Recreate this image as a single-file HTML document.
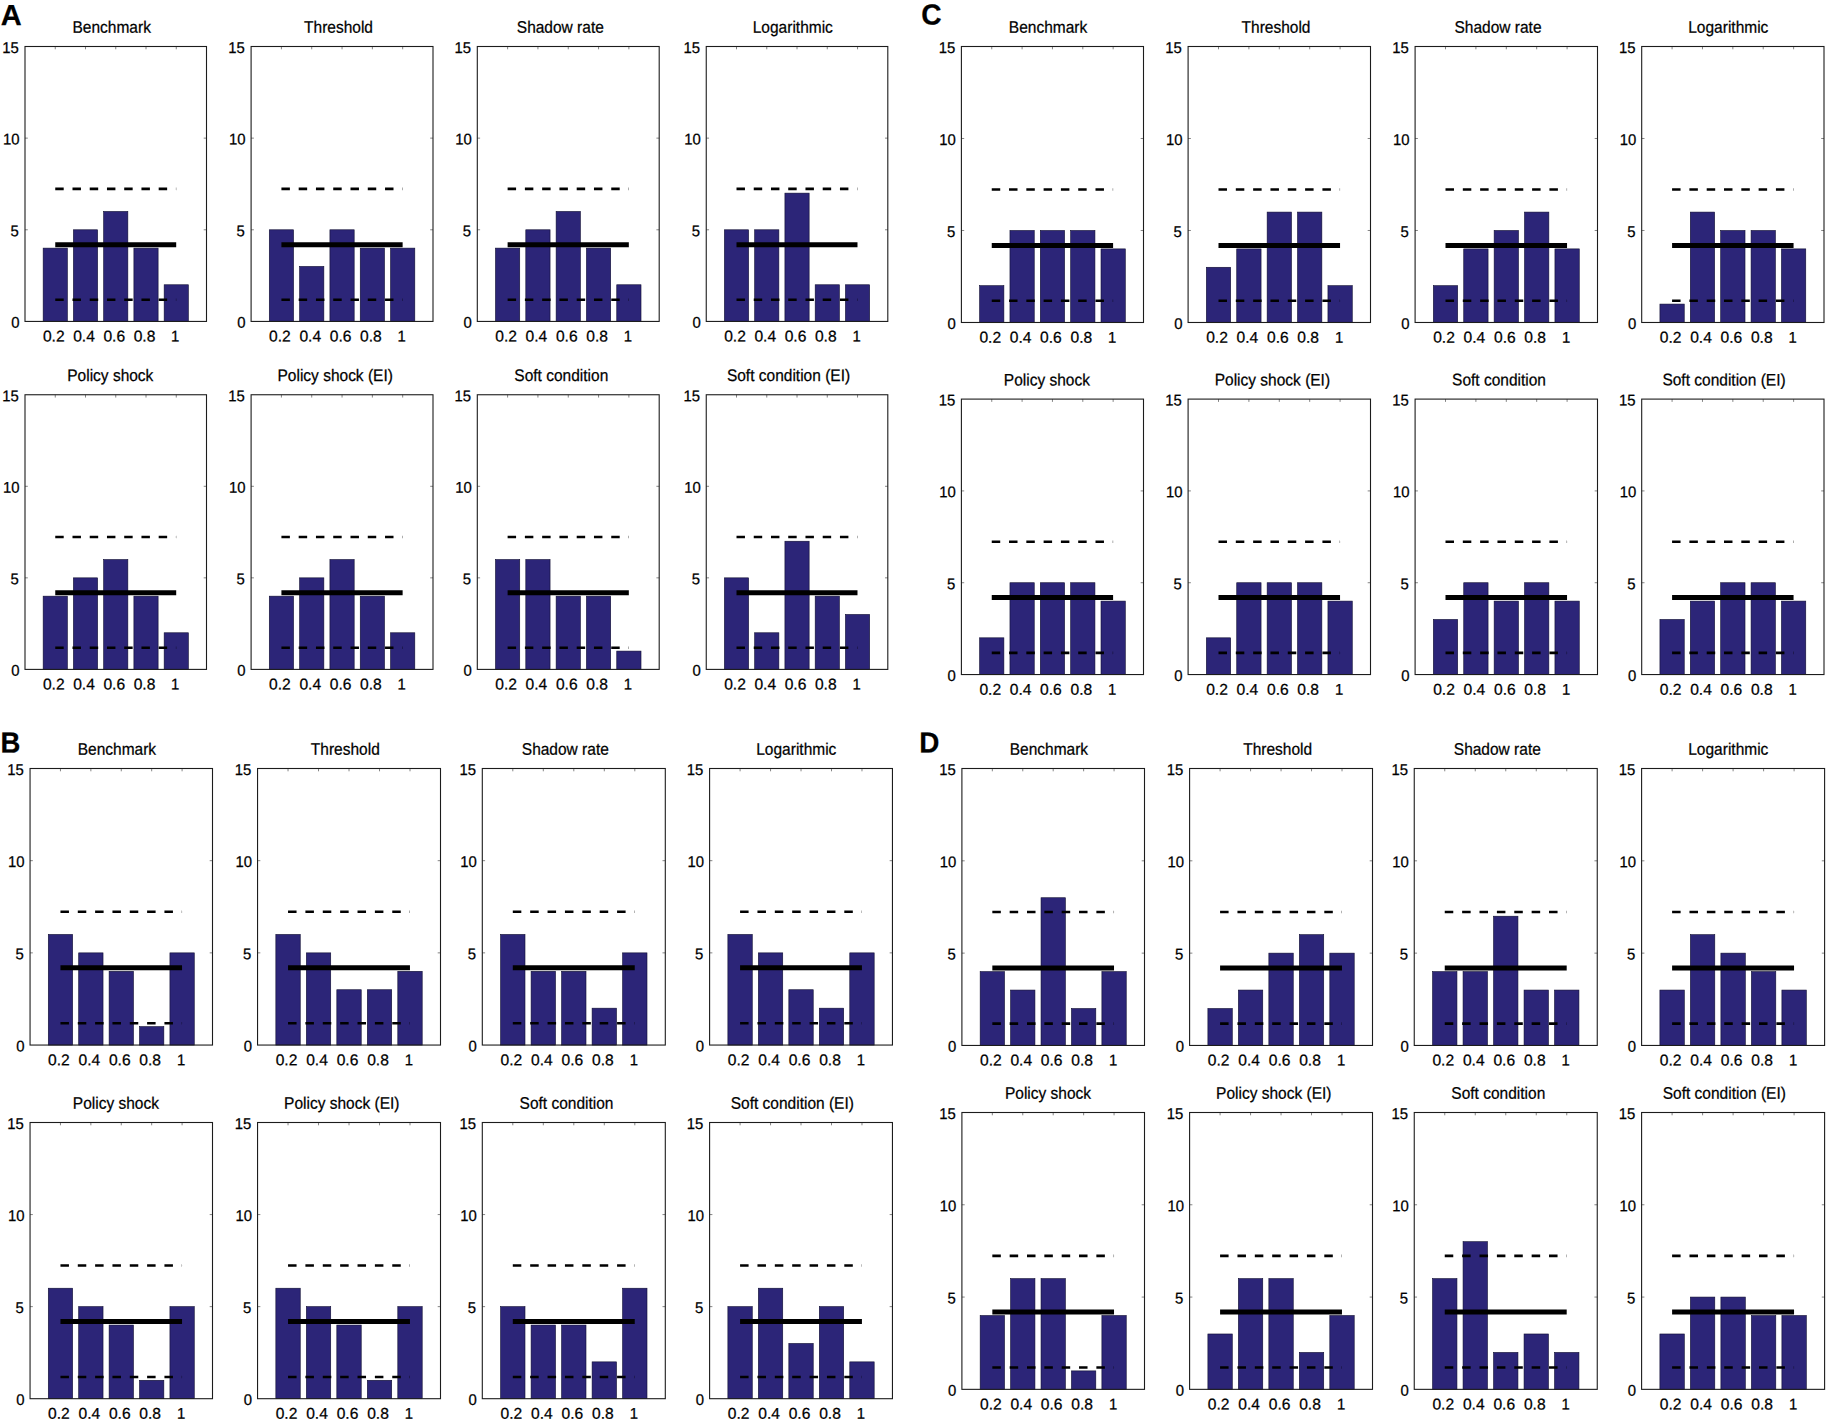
<!DOCTYPE html>
<html lang="en">
<head>
<meta charset="utf-8">
<title>Histograms</title>
<style>
html,body{margin:0;padding:0;background:#fff;}
body{width:1826px;height:1423px;overflow:hidden;}
svg{display:block;}
text{font-family:"Liberation Sans",Arial,Helvetica,sans-serif;fill:#000;stroke:#000;stroke-width:0.25px;}
.t{font-size:16.7px;text-anchor:middle;}
.x{font-size:15.6px;text-anchor:middle;}
.y{font-size:15.6px;text-anchor:end;}
.p{font-size:29px;font-weight:bold;}
.b{fill:#2c2578;stroke:#0e0c30;stroke-width:0.6;}
.a{fill:none;stroke:#1c1c1c;stroke-width:1.1;}
.k{fill:none;stroke:#666;stroke-width:0.8;}
.m{fill:none;stroke:#000;stroke-width:5;}
.d{fill:none;stroke:#000;stroke-width:2.6;}
</style>
</head>
<body>
<svg width="1826" height="1423" viewBox="0 0 1826 1423">
<rect x="0" y="0" width="1826" height="1423" fill="#fff"/>
<g>
<text class="t" transform="matrix(0.928 .0005 0 1 111.7 32.8)">Benchmark</text>
<rect class="b" x="43.15" y="248.12" width="24.2" height="73.31"/>
<rect class="b" x="73.4" y="229.79" width="24.2" height="91.64"/>
<rect class="b" x="103.65" y="211.46" width="24.2" height="109.97"/>
<rect class="b" x="133.9" y="248.12" width="24.2" height="73.31"/>
<rect class="b" x="164.15" y="284.77" width="24.2" height="36.66"/>
<path class="k" d="M55.25 46.5v2.8M85.5 46.5v2.8M115.75 46.5v2.8M146 46.5v2.8M176.25 46.5v2.8M25 229.79h2.8M206.5 229.79h-2.8M25 138.14h2.8M206.5 138.14h-2.8"/>
<rect class="a" x="25" y="46.5" width="181.5" height="274.93"/>
<path class="m" d="M55.25 244.63H176.2"/>
<path class="d" stroke-dasharray="8.45 8.79" d="M55.25 188.91H176.2M55.25 299.8H176.2"/>
<text class="y" transform="matrix(0.955 .0005 0 1 19.5 327.83)">0</text>
<text class="y" transform="matrix(0.955 .0005 0 1 18.8 236.19)">5</text>
<text class="y" transform="matrix(0.955 .0005 0 1 19.5 144.54)">10</text>
<text class="y" transform="matrix(0.955 .0005 0 1 18.8 52.9)">15</text>
<text class="x" transform="matrix(1.0 .0005 0 1 53.75 341.58)">0.2</text>
<text class="x" transform="matrix(1.0 .0005 0 1 84 341.58)">0.4</text>
<text class="x" transform="matrix(1.0 .0005 0 1 114.25 341.58)">0.6</text>
<text class="x" transform="matrix(1.0 .0005 0 1 144.5 341.58)">0.8</text>
<text class="x" transform="matrix(0.955 .0005 0 1 175.25 341.58)">1</text>
</g>
<g>
<text class="t" transform="matrix(0.928 .0005 0 1 338.5 32.8)">Threshold</text>
<rect class="b" x="269.29" y="229.79" width="24.25" height="91.64"/>
<rect class="b" x="299.61" y="266.44" width="24.25" height="54.99"/>
<rect class="b" x="329.92" y="229.79" width="24.25" height="91.64"/>
<rect class="b" x="360.24" y="248.12" width="24.25" height="73.31"/>
<rect class="b" x="390.56" y="248.12" width="24.25" height="73.31"/>
<path class="k" d="M281.42 46.5v2.8M311.73 46.5v2.8M342.05 46.5v2.8M372.37 46.5v2.8M402.68 46.5v2.8M251.1 229.79h2.8M433 229.79h-2.8M251.1 138.14h2.8M433 138.14h-2.8"/>
<rect class="a" x="251.1" y="46.5" width="181.9" height="274.93"/>
<path class="m" d="M281.42 244.63H402.63"/>
<path class="d" stroke-dasharray="8.46 8.81" d="M281.42 188.91H402.63M281.42 299.8H402.63"/>
<text class="y" transform="matrix(0.955 .0005 0 1 245.6 327.83)">0</text>
<text class="y" transform="matrix(0.955 .0005 0 1 244.9 236.19)">5</text>
<text class="y" transform="matrix(0.955 .0005 0 1 245.6 144.54)">10</text>
<text class="y" transform="matrix(0.955 .0005 0 1 244.9 52.9)">15</text>
<text class="x" transform="matrix(1.0 .0005 0 1 279.92 341.58)">0.2</text>
<text class="x" transform="matrix(1.0 .0005 0 1 310.23 341.58)">0.4</text>
<text class="x" transform="matrix(1.0 .0005 0 1 340.55 341.58)">0.6</text>
<text class="x" transform="matrix(1.0 .0005 0 1 370.87 341.58)">0.8</text>
<text class="x" transform="matrix(0.955 .0005 0 1 401.68 341.58)">1</text>
</g>
<g>
<text class="t" transform="matrix(0.928 .0005 0 1 560.3 32.8)">Shadow rate</text>
<rect class="b" x="495.49" y="248.12" width="24.25" height="73.31"/>
<rect class="b" x="525.81" y="229.79" width="24.25" height="91.64"/>
<rect class="b" x="556.12" y="211.46" width="24.25" height="109.97"/>
<rect class="b" x="586.44" y="248.12" width="24.25" height="73.31"/>
<rect class="b" x="616.76" y="284.77" width="24.25" height="36.66"/>
<path class="k" d="M507.62 46.5v2.8M537.93 46.5v2.8M568.25 46.5v2.8M598.57 46.5v2.8M628.88 46.5v2.8M477.3 229.79h2.8M659.2 229.79h-2.8M477.3 138.14h2.8M659.2 138.14h-2.8"/>
<rect class="a" x="477.3" y="46.5" width="181.9" height="274.93"/>
<path class="m" d="M507.62 244.63H628.83"/>
<path class="d" stroke-dasharray="8.46 8.81" d="M507.62 188.91H628.83M507.62 299.8H628.83"/>
<text class="y" transform="matrix(0.955 .0005 0 1 471.8 327.83)">0</text>
<text class="y" transform="matrix(0.955 .0005 0 1 471.1 236.19)">5</text>
<text class="y" transform="matrix(0.955 .0005 0 1 471.8 144.54)">10</text>
<text class="y" transform="matrix(0.955 .0005 0 1 471.1 52.9)">15</text>
<text class="x" transform="matrix(1.0 .0005 0 1 506.12 341.58)">0.2</text>
<text class="x" transform="matrix(1.0 .0005 0 1 536.43 341.58)">0.4</text>
<text class="x" transform="matrix(1.0 .0005 0 1 566.75 341.58)">0.6</text>
<text class="x" transform="matrix(1.0 .0005 0 1 597.07 341.58)">0.8</text>
<text class="x" transform="matrix(0.955 .0005 0 1 627.88 341.58)">1</text>
</g>
<g>
<text class="t" transform="matrix(0.928 .0005 0 1 792.8 32.8)">Logarithmic</text>
<rect class="b" x="724.4" y="229.79" width="24.21" height="91.64"/>
<rect class="b" x="754.66" y="229.79" width="24.21" height="91.64"/>
<rect class="b" x="784.92" y="193.13" width="24.21" height="128.3"/>
<rect class="b" x="815.18" y="284.77" width="24.21" height="36.66"/>
<rect class="b" x="845.44" y="284.77" width="24.21" height="36.66"/>
<path class="k" d="M736.51 46.5v2.8M766.77 46.5v2.8M797.02 46.5v2.8M827.28 46.5v2.8M857.54 46.5v2.8M706.25 229.79h2.8M887.8 229.79h-2.8M706.25 138.14h2.8M887.8 138.14h-2.8"/>
<rect class="a" x="706.25" y="46.5" width="181.55" height="274.93"/>
<path class="m" d="M736.51 244.63H857.49"/>
<path class="d" stroke-dasharray="8.45 8.79" d="M736.51 188.91H857.49M736.51 299.8H857.49"/>
<text class="y" transform="matrix(0.955 .0005 0 1 700.75 327.83)">0</text>
<text class="y" transform="matrix(0.955 .0005 0 1 700.05 236.19)">5</text>
<text class="y" transform="matrix(0.955 .0005 0 1 700.75 144.54)">10</text>
<text class="y" transform="matrix(0.955 .0005 0 1 700.05 52.9)">15</text>
<text class="x" transform="matrix(1.0 .0005 0 1 735.01 341.58)">0.2</text>
<text class="x" transform="matrix(1.0 .0005 0 1 765.27 341.58)">0.4</text>
<text class="x" transform="matrix(1.0 .0005 0 1 795.52 341.58)">0.6</text>
<text class="x" transform="matrix(1.0 .0005 0 1 825.78 341.58)">0.8</text>
<text class="x" transform="matrix(0.955 .0005 0 1 856.54 341.58)">1</text>
</g>
<g>
<text class="t" transform="matrix(0.928 .0005 0 1 110.3 381.05)">Policy shock</text>
<rect class="b" x="43.15" y="596.16" width="24.2" height="73.24"/>
<rect class="b" x="73.4" y="577.85" width="24.2" height="91.55"/>
<rect class="b" x="103.65" y="559.54" width="24.2" height="109.86"/>
<rect class="b" x="133.9" y="596.16" width="24.2" height="73.24"/>
<rect class="b" x="164.15" y="632.78" width="24.2" height="36.62"/>
<path class="k" d="M55.25 394.75v2.8M85.5 394.75v2.8M115.75 394.75v2.8M146 394.75v2.8M176.25 394.75v2.8M25 577.85h2.8M206.5 577.85h-2.8M25 486.3h2.8M206.5 486.3h-2.8"/>
<rect class="a" x="25" y="394.75" width="181.5" height="274.65"/>
<path class="m" d="M55.25 592.68H176.2"/>
<path class="d" stroke-dasharray="8.45 8.79" d="M55.25 537.02H176.2M55.25 647.79H176.2"/>
<text class="y" transform="matrix(0.955 .0005 0 1 19.5 675.8)">0</text>
<text class="y" transform="matrix(0.955 .0005 0 1 18.8 584.25)">5</text>
<text class="y" transform="matrix(0.955 .0005 0 1 19.5 492.7)">10</text>
<text class="y" transform="matrix(0.955 .0005 0 1 18.8 401.15)">15</text>
<text class="x" transform="matrix(1.0 .0005 0 1 53.75 689.55)">0.2</text>
<text class="x" transform="matrix(1.0 .0005 0 1 84 689.55)">0.4</text>
<text class="x" transform="matrix(1.0 .0005 0 1 114.25 689.55)">0.6</text>
<text class="x" transform="matrix(1.0 .0005 0 1 144.5 689.55)">0.8</text>
<text class="x" transform="matrix(0.955 .0005 0 1 175.25 689.55)">1</text>
</g>
<g>
<text class="t" transform="matrix(0.928 .0005 0 1 335.2 381.05)">Policy shock (EI)</text>
<rect class="b" x="269.29" y="596.16" width="24.25" height="73.24"/>
<rect class="b" x="299.61" y="577.85" width="24.25" height="91.55"/>
<rect class="b" x="329.92" y="559.54" width="24.25" height="109.86"/>
<rect class="b" x="360.24" y="596.16" width="24.25" height="73.24"/>
<rect class="b" x="390.56" y="632.78" width="24.25" height="36.62"/>
<path class="k" d="M281.42 394.75v2.8M311.73 394.75v2.8M342.05 394.75v2.8M372.37 394.75v2.8M402.68 394.75v2.8M251.1 577.85h2.8M433 577.85h-2.8M251.1 486.3h2.8M433 486.3h-2.8"/>
<rect class="a" x="251.1" y="394.75" width="181.9" height="274.65"/>
<path class="m" d="M281.42 592.68H402.63"/>
<path class="d" stroke-dasharray="8.46 8.81" d="M281.42 537.02H402.63M281.42 647.79H402.63"/>
<text class="y" transform="matrix(0.955 .0005 0 1 245.6 675.8)">0</text>
<text class="y" transform="matrix(0.955 .0005 0 1 244.9 584.25)">5</text>
<text class="y" transform="matrix(0.955 .0005 0 1 245.6 492.7)">10</text>
<text class="y" transform="matrix(0.955 .0005 0 1 244.9 401.15)">15</text>
<text class="x" transform="matrix(1.0 .0005 0 1 279.92 689.55)">0.2</text>
<text class="x" transform="matrix(1.0 .0005 0 1 310.23 689.55)">0.4</text>
<text class="x" transform="matrix(1.0 .0005 0 1 340.55 689.55)">0.6</text>
<text class="x" transform="matrix(1.0 .0005 0 1 370.87 689.55)">0.8</text>
<text class="x" transform="matrix(0.955 .0005 0 1 401.68 689.55)">1</text>
</g>
<g>
<text class="t" transform="matrix(0.928 .0005 0 1 561.3 381.05)">Soft condition</text>
<rect class="b" x="495.49" y="559.54" width="24.25" height="109.86"/>
<rect class="b" x="525.81" y="559.54" width="24.25" height="109.86"/>
<rect class="b" x="556.12" y="596.16" width="24.25" height="73.24"/>
<rect class="b" x="586.44" y="596.16" width="24.25" height="73.24"/>
<rect class="b" x="616.76" y="651.09" width="24.25" height="18.31"/>
<path class="k" d="M507.62 394.75v2.8M537.93 394.75v2.8M568.25 394.75v2.8M598.57 394.75v2.8M628.88 394.75v2.8M477.3 577.85h2.8M659.2 577.85h-2.8M477.3 486.3h2.8M659.2 486.3h-2.8"/>
<rect class="a" x="477.3" y="394.75" width="181.9" height="274.65"/>
<path class="m" d="M507.62 592.68H628.83"/>
<path class="d" stroke-dasharray="8.46 8.81" d="M507.62 537.02H628.83M507.62 647.79H628.83"/>
<text class="y" transform="matrix(0.955 .0005 0 1 471.8 675.8)">0</text>
<text class="y" transform="matrix(0.955 .0005 0 1 471.1 584.25)">5</text>
<text class="y" transform="matrix(0.955 .0005 0 1 471.8 492.7)">10</text>
<text class="y" transform="matrix(0.955 .0005 0 1 471.1 401.15)">15</text>
<text class="x" transform="matrix(1.0 .0005 0 1 506.12 689.55)">0.2</text>
<text class="x" transform="matrix(1.0 .0005 0 1 536.43 689.55)">0.4</text>
<text class="x" transform="matrix(1.0 .0005 0 1 566.75 689.55)">0.6</text>
<text class="x" transform="matrix(1.0 .0005 0 1 597.07 689.55)">0.8</text>
<text class="x" transform="matrix(0.955 .0005 0 1 627.88 689.55)">1</text>
</g>
<g>
<text class="t" transform="matrix(0.928 .0005 0 1 788.5 381.05)">Soft condition (EI)</text>
<rect class="b" x="724.4" y="577.85" width="24.21" height="91.55"/>
<rect class="b" x="754.66" y="632.78" width="24.21" height="36.62"/>
<rect class="b" x="784.92" y="541.23" width="24.21" height="128.17"/>
<rect class="b" x="815.18" y="596.16" width="24.21" height="73.24"/>
<rect class="b" x="845.44" y="614.47" width="24.21" height="54.93"/>
<path class="k" d="M736.51 394.75v2.8M766.77 394.75v2.8M797.02 394.75v2.8M827.28 394.75v2.8M857.54 394.75v2.8M706.25 577.85h2.8M887.8 577.85h-2.8M706.25 486.3h2.8M887.8 486.3h-2.8"/>
<rect class="a" x="706.25" y="394.75" width="181.55" height="274.65"/>
<path class="m" d="M736.51 592.68H857.49"/>
<path class="d" stroke-dasharray="8.45 8.79" d="M736.51 537.02H857.49M736.51 647.79H857.49"/>
<text class="y" transform="matrix(0.955 .0005 0 1 700.75 675.8)">0</text>
<text class="y" transform="matrix(0.955 .0005 0 1 700.05 584.25)">5</text>
<text class="y" transform="matrix(0.955 .0005 0 1 700.75 492.7)">10</text>
<text class="y" transform="matrix(0.955 .0005 0 1 700.05 401.15)">15</text>
<text class="x" transform="matrix(1.0 .0005 0 1 735.01 689.55)">0.2</text>
<text class="x" transform="matrix(1.0 .0005 0 1 765.27 689.55)">0.4</text>
<text class="x" transform="matrix(1.0 .0005 0 1 795.52 689.55)">0.6</text>
<text class="x" transform="matrix(1.0 .0005 0 1 825.78 689.55)">0.8</text>
<text class="x" transform="matrix(0.955 .0005 0 1 856.54 689.55)">1</text>
</g>
<g>
<text class="t" transform="matrix(0.928 .0005 0 1 116.9 754.8)">Benchmark</text>
<rect class="b" x="48.29" y="934.43" width="24.33" height="110.62"/>
<rect class="b" x="78.7" y="952.87" width="24.33" height="92.18"/>
<rect class="b" x="109.11" y="971.3" width="24.33" height="73.75"/>
<rect class="b" x="139.52" y="1026.61" width="24.33" height="18.44"/>
<rect class="b" x="169.93" y="952.87" width="24.33" height="92.18"/>
<path class="k" d="M60.46 768.5v2.8M90.87 768.5v2.8M121.27 768.5v2.8M151.68 768.5v2.8M182.09 768.5v2.8M30.05 952.87h2.8M212.5 952.87h-2.8M30.05 860.68h2.8M212.5 860.68h-2.8"/>
<rect class="a" x="30.05" y="768.5" width="182.45" height="276.55"/>
<path class="m" d="M60.46 967.8H182.04"/>
<path class="d" stroke-dasharray="8.49 8.84" d="M60.46 911.75H182.04M60.46 1023.29H182.04"/>
<text class="y" transform="matrix(0.955 .0005 0 1 24.55 1051.45)">0</text>
<text class="y" transform="matrix(0.955 .0005 0 1 23.85 959.27)">5</text>
<text class="y" transform="matrix(0.955 .0005 0 1 24.55 867.08)">10</text>
<text class="y" transform="matrix(0.955 .0005 0 1 23.85 774.9)">15</text>
<text class="x" transform="matrix(1.0 .0005 0 1 58.96 1065.2)">0.2</text>
<text class="x" transform="matrix(1.0 .0005 0 1 89.37 1065.2)">0.4</text>
<text class="x" transform="matrix(1.0 .0005 0 1 119.77 1065.2)">0.6</text>
<text class="x" transform="matrix(1.0 .0005 0 1 150.18 1065.2)">0.8</text>
<text class="x" transform="matrix(0.955 .0005 0 1 181.09 1065.2)">1</text>
</g>
<g>
<text class="t" transform="matrix(0.928 .0005 0 1 345.3 754.8)">Threshold</text>
<rect class="b" x="275.85" y="934.43" width="24.39" height="110.62"/>
<rect class="b" x="306.34" y="952.87" width="24.39" height="92.18"/>
<rect class="b" x="336.83" y="989.74" width="24.39" height="55.31"/>
<rect class="b" x="367.32" y="989.74" width="24.39" height="55.31"/>
<rect class="b" x="397.81" y="971.3" width="24.39" height="73.75"/>
<path class="k" d="M288.04 768.5v2.8M318.53 768.5v2.8M349.03 768.5v2.8M379.52 768.5v2.8M410.01 768.5v2.8M257.55 952.87h2.8M440.5 952.87h-2.8M257.55 860.68h2.8M440.5 860.68h-2.8"/>
<rect class="a" x="257.55" y="768.5" width="182.95" height="276.55"/>
<path class="m" d="M288.04 967.8H409.96"/>
<path class="d" stroke-dasharray="8.51 8.86" d="M288.04 911.75H409.96M288.04 1023.29H409.96"/>
<text class="y" transform="matrix(0.955 .0005 0 1 252.05 1051.45)">0</text>
<text class="y" transform="matrix(0.955 .0005 0 1 251.35 959.27)">5</text>
<text class="y" transform="matrix(0.955 .0005 0 1 252.05 867.08)">10</text>
<text class="y" transform="matrix(0.955 .0005 0 1 251.35 774.9)">15</text>
<text class="x" transform="matrix(1.0 .0005 0 1 286.54 1065.2)">0.2</text>
<text class="x" transform="matrix(1.0 .0005 0 1 317.03 1065.2)">0.4</text>
<text class="x" transform="matrix(1.0 .0005 0 1 347.53 1065.2)">0.6</text>
<text class="x" transform="matrix(1.0 .0005 0 1 378.02 1065.2)">0.8</text>
<text class="x" transform="matrix(0.955 .0005 0 1 409.01 1065.2)">1</text>
</g>
<g>
<text class="t" transform="matrix(0.928 .0005 0 1 565.3 754.8)">Shadow rate</text>
<rect class="b" x="500.6" y="934.43" width="24.4" height="110.62"/>
<rect class="b" x="531.1" y="971.3" width="24.4" height="73.75"/>
<rect class="b" x="561.6" y="971.3" width="24.4" height="73.75"/>
<rect class="b" x="592.1" y="1008.18" width="24.4" height="36.87"/>
<rect class="b" x="622.6" y="952.87" width="24.4" height="92.18"/>
<path class="k" d="M512.8 768.5v2.8M543.3 768.5v2.8M573.8 768.5v2.8M604.3 768.5v2.8M634.8 768.5v2.8M482.3 952.87h2.8M665.3 952.87h-2.8M482.3 860.68h2.8M665.3 860.68h-2.8"/>
<rect class="a" x="482.3" y="768.5" width="183" height="276.55"/>
<path class="m" d="M512.8 967.8H634.75"/>
<path class="d" stroke-dasharray="8.52 8.86" d="M512.8 911.75H634.75M512.8 1023.29H634.75"/>
<text class="y" transform="matrix(0.955 .0005 0 1 476.8 1051.45)">0</text>
<text class="y" transform="matrix(0.955 .0005 0 1 476.1 959.27)">5</text>
<text class="y" transform="matrix(0.955 .0005 0 1 476.8 867.08)">10</text>
<text class="y" transform="matrix(0.955 .0005 0 1 476.1 774.9)">15</text>
<text class="x" transform="matrix(1.0 .0005 0 1 511.3 1065.2)">0.2</text>
<text class="x" transform="matrix(1.0 .0005 0 1 541.8 1065.2)">0.4</text>
<text class="x" transform="matrix(1.0 .0005 0 1 572.3 1065.2)">0.6</text>
<text class="x" transform="matrix(1.0 .0005 0 1 602.8 1065.2)">0.8</text>
<text class="x" transform="matrix(0.955 .0005 0 1 633.8 1065.2)">1</text>
</g>
<g>
<text class="t" transform="matrix(0.928 .0005 0 1 796.3 754.8)">Logarithmic</text>
<rect class="b" x="727.88" y="934.43" width="24.38" height="110.62"/>
<rect class="b" x="758.36" y="952.87" width="24.38" height="92.18"/>
<rect class="b" x="788.84" y="989.74" width="24.38" height="55.31"/>
<rect class="b" x="819.31" y="1008.18" width="24.38" height="36.87"/>
<rect class="b" x="849.79" y="952.87" width="24.38" height="92.18"/>
<path class="k" d="M740.08 768.5v2.8M770.55 768.5v2.8M801.03 768.5v2.8M831.5 768.5v2.8M861.98 768.5v2.8M709.6 952.87h2.8M892.45 952.87h-2.8M709.6 860.68h2.8M892.45 860.68h-2.8"/>
<rect class="a" x="709.6" y="768.5" width="182.85" height="276.55"/>
<path class="m" d="M740.08 967.8H861.93"/>
<path class="d" stroke-dasharray="8.51 8.86" d="M740.08 911.75H861.93M740.08 1023.29H861.93"/>
<text class="y" transform="matrix(0.955 .0005 0 1 704.1 1051.45)">0</text>
<text class="y" transform="matrix(0.955 .0005 0 1 703.4 959.27)">5</text>
<text class="y" transform="matrix(0.955 .0005 0 1 704.1 867.08)">10</text>
<text class="y" transform="matrix(0.955 .0005 0 1 703.4 774.9)">15</text>
<text class="x" transform="matrix(1.0 .0005 0 1 738.58 1065.2)">0.2</text>
<text class="x" transform="matrix(1.0 .0005 0 1 769.05 1065.2)">0.4</text>
<text class="x" transform="matrix(1.0 .0005 0 1 799.53 1065.2)">0.6</text>
<text class="x" transform="matrix(1.0 .0005 0 1 830 1065.2)">0.8</text>
<text class="x" transform="matrix(0.955 .0005 0 1 860.98 1065.2)">1</text>
</g>
<g>
<text class="t" transform="matrix(0.928 .0005 0 1 115.9 1108.8)">Policy shock</text>
<rect class="b" x="48.29" y="1288.22" width="24.33" height="110.48"/>
<rect class="b" x="78.7" y="1306.63" width="24.33" height="92.07"/>
<rect class="b" x="109.11" y="1325.05" width="24.33" height="73.65"/>
<rect class="b" x="139.52" y="1380.29" width="24.33" height="18.41"/>
<rect class="b" x="169.93" y="1306.63" width="24.33" height="92.07"/>
<path class="k" d="M60.46 1122.5v2.8M90.87 1122.5v2.8M121.27 1122.5v2.8M151.68 1122.5v2.8M182.09 1122.5v2.8M30.05 1306.63h2.8M212.5 1306.63h-2.8M30.05 1214.57h2.8M212.5 1214.57h-2.8"/>
<rect class="a" x="30.05" y="1122.5" width="182.45" height="276.2"/>
<path class="m" d="M60.46 1321.55H182.04"/>
<path class="d" stroke-dasharray="8.49 8.84" d="M60.46 1265.57H182.04M60.46 1376.97H182.04"/>
<text class="y" transform="matrix(0.955 .0005 0 1 24.55 1405.1)">0</text>
<text class="y" transform="matrix(0.955 .0005 0 1 23.85 1313.03)">5</text>
<text class="y" transform="matrix(0.955 .0005 0 1 24.55 1220.97)">10</text>
<text class="y" transform="matrix(0.955 .0005 0 1 23.85 1128.9)">15</text>
<text class="x" transform="matrix(1.0 .0005 0 1 58.96 1418.85)">0.2</text>
<text class="x" transform="matrix(1.0 .0005 0 1 89.37 1418.85)">0.4</text>
<text class="x" transform="matrix(1.0 .0005 0 1 119.77 1418.85)">0.6</text>
<text class="x" transform="matrix(1.0 .0005 0 1 150.18 1418.85)">0.8</text>
<text class="x" transform="matrix(0.955 .0005 0 1 181.09 1418.85)">1</text>
</g>
<g>
<text class="t" transform="matrix(0.928 .0005 0 1 341.75 1108.8)">Policy shock (EI)</text>
<rect class="b" x="275.85" y="1288.22" width="24.39" height="110.48"/>
<rect class="b" x="306.34" y="1306.63" width="24.39" height="92.07"/>
<rect class="b" x="336.83" y="1325.05" width="24.39" height="73.65"/>
<rect class="b" x="367.32" y="1380.29" width="24.39" height="18.41"/>
<rect class="b" x="397.81" y="1306.63" width="24.39" height="92.07"/>
<path class="k" d="M288.04 1122.5v2.8M318.53 1122.5v2.8M349.03 1122.5v2.8M379.52 1122.5v2.8M410.01 1122.5v2.8M257.55 1306.63h2.8M440.5 1306.63h-2.8M257.55 1214.57h2.8M440.5 1214.57h-2.8"/>
<rect class="a" x="257.55" y="1122.5" width="182.95" height="276.2"/>
<path class="m" d="M288.04 1321.55H409.96"/>
<path class="d" stroke-dasharray="8.51 8.86" d="M288.04 1265.57H409.96M288.04 1376.97H409.96"/>
<text class="y" transform="matrix(0.955 .0005 0 1 252.05 1405.1)">0</text>
<text class="y" transform="matrix(0.955 .0005 0 1 251.35 1313.03)">5</text>
<text class="y" transform="matrix(0.955 .0005 0 1 252.05 1220.97)">10</text>
<text class="y" transform="matrix(0.955 .0005 0 1 251.35 1128.9)">15</text>
<text class="x" transform="matrix(1.0 .0005 0 1 286.54 1418.85)">0.2</text>
<text class="x" transform="matrix(1.0 .0005 0 1 317.03 1418.85)">0.4</text>
<text class="x" transform="matrix(1.0 .0005 0 1 347.53 1418.85)">0.6</text>
<text class="x" transform="matrix(1.0 .0005 0 1 378.02 1418.85)">0.8</text>
<text class="x" transform="matrix(0.955 .0005 0 1 409.01 1418.85)">1</text>
</g>
<g>
<text class="t" transform="matrix(0.928 .0005 0 1 566.5 1108.8)">Soft condition</text>
<rect class="b" x="500.6" y="1306.63" width="24.4" height="92.07"/>
<rect class="b" x="531.1" y="1325.05" width="24.4" height="73.65"/>
<rect class="b" x="561.6" y="1325.05" width="24.4" height="73.65"/>
<rect class="b" x="592.1" y="1361.87" width="24.4" height="36.83"/>
<rect class="b" x="622.6" y="1288.22" width="24.4" height="110.48"/>
<path class="k" d="M512.8 1122.5v2.8M543.3 1122.5v2.8M573.8 1122.5v2.8M604.3 1122.5v2.8M634.8 1122.5v2.8M482.3 1306.63h2.8M665.3 1306.63h-2.8M482.3 1214.57h2.8M665.3 1214.57h-2.8"/>
<rect class="a" x="482.3" y="1122.5" width="183" height="276.2"/>
<path class="m" d="M512.8 1321.55H634.75"/>
<path class="d" stroke-dasharray="8.52 8.86" d="M512.8 1265.57H634.75M512.8 1376.97H634.75"/>
<text class="y" transform="matrix(0.955 .0005 0 1 476.8 1405.1)">0</text>
<text class="y" transform="matrix(0.955 .0005 0 1 476.1 1313.03)">5</text>
<text class="y" transform="matrix(0.955 .0005 0 1 476.8 1220.97)">10</text>
<text class="y" transform="matrix(0.955 .0005 0 1 476.1 1128.9)">15</text>
<text class="x" transform="matrix(1.0 .0005 0 1 511.3 1418.85)">0.2</text>
<text class="x" transform="matrix(1.0 .0005 0 1 541.8 1418.85)">0.4</text>
<text class="x" transform="matrix(1.0 .0005 0 1 572.3 1418.85)">0.6</text>
<text class="x" transform="matrix(1.0 .0005 0 1 602.8 1418.85)">0.8</text>
<text class="x" transform="matrix(0.955 .0005 0 1 633.8 1418.85)">1</text>
</g>
<g>
<text class="t" transform="matrix(0.928 .0005 0 1 792.3 1108.8)">Soft condition (EI)</text>
<rect class="b" x="727.88" y="1306.63" width="24.38" height="92.07"/>
<rect class="b" x="758.36" y="1288.22" width="24.38" height="110.48"/>
<rect class="b" x="788.84" y="1343.46" width="24.38" height="55.24"/>
<rect class="b" x="819.31" y="1306.63" width="24.38" height="92.07"/>
<rect class="b" x="849.79" y="1361.87" width="24.38" height="36.83"/>
<path class="k" d="M740.08 1122.5v2.8M770.55 1122.5v2.8M801.03 1122.5v2.8M831.5 1122.5v2.8M861.98 1122.5v2.8M709.6 1306.63h2.8M892.45 1306.63h-2.8M709.6 1214.57h2.8M892.45 1214.57h-2.8"/>
<rect class="a" x="709.6" y="1122.5" width="182.85" height="276.2"/>
<path class="m" d="M740.08 1321.55H861.93"/>
<path class="d" stroke-dasharray="8.51 8.86" d="M740.08 1265.57H861.93M740.08 1376.97H861.93"/>
<text class="y" transform="matrix(0.955 .0005 0 1 704.1 1405.1)">0</text>
<text class="y" transform="matrix(0.955 .0005 0 1 703.4 1313.03)">5</text>
<text class="y" transform="matrix(0.955 .0005 0 1 704.1 1220.97)">10</text>
<text class="y" transform="matrix(0.955 .0005 0 1 703.4 1128.9)">15</text>
<text class="x" transform="matrix(1.0 .0005 0 1 738.58 1418.85)">0.2</text>
<text class="x" transform="matrix(1.0 .0005 0 1 769.05 1418.85)">0.4</text>
<text class="x" transform="matrix(1.0 .0005 0 1 799.53 1418.85)">0.6</text>
<text class="x" transform="matrix(1.0 .0005 0 1 830 1418.85)">0.8</text>
<text class="x" transform="matrix(0.955 .0005 0 1 860.98 1418.85)">1</text>
</g>
<g>
<text class="t" transform="matrix(0.928 .0005 0 1 1048 32.8)">Benchmark</text>
<rect class="b" x="979.61" y="285.68" width="24.28" height="36.8"/>
<rect class="b" x="1009.96" y="230.49" width="24.28" height="91.99"/>
<rect class="b" x="1040.31" y="230.49" width="24.28" height="91.99"/>
<rect class="b" x="1070.66" y="230.49" width="24.28" height="91.99"/>
<rect class="b" x="1101.01" y="248.89" width="24.28" height="73.59"/>
<path class="k" d="M991.75 46.5v2.8M1022.1 46.5v2.8M1052.45 46.5v2.8M1082.8 46.5v2.8M1113.15 46.5v2.8M961.4 230.49h2.8M1143.5 230.49h-2.8M961.4 138.49h2.8M1143.5 138.49h-2.8"/>
<rect class="a" x="961.4" y="46.5" width="182.1" height="275.98"/>
<path class="m" d="M991.75 245.39H1113.1"/>
<path class="d" stroke-dasharray="8.47 8.82" d="M991.75 189.46H1113.1M991.75 300.77H1113.1"/>
<text class="y" transform="matrix(0.955 .0005 0 1 955.9 328.88)">0</text>
<text class="y" transform="matrix(0.955 .0005 0 1 955.2 236.89)">5</text>
<text class="y" transform="matrix(0.955 .0005 0 1 955.9 144.89)">10</text>
<text class="y" transform="matrix(0.955 .0005 0 1 955.2 52.9)">15</text>
<text class="x" transform="matrix(1.0 .0005 0 1 990.25 342.63)">0.2</text>
<text class="x" transform="matrix(1.0 .0005 0 1 1020.6 342.63)">0.4</text>
<text class="x" transform="matrix(1.0 .0005 0 1 1050.95 342.63)">0.6</text>
<text class="x" transform="matrix(1.0 .0005 0 1 1081.3 342.63)">0.8</text>
<text class="x" transform="matrix(0.955 .0005 0 1 1112.15 342.63)">1</text>
</g>
<g>
<text class="t" transform="matrix(0.928 .0005 0 1 1276 32.8)">Threshold</text>
<rect class="b" x="1206.34" y="267.28" width="24.32" height="55.2"/>
<rect class="b" x="1236.74" y="248.89" width="24.32" height="73.59"/>
<rect class="b" x="1267.14" y="212.09" width="24.32" height="110.39"/>
<rect class="b" x="1297.54" y="212.09" width="24.32" height="110.39"/>
<rect class="b" x="1327.94" y="285.68" width="24.32" height="36.8"/>
<path class="k" d="M1218.5 46.5v2.8M1248.9 46.5v2.8M1279.3 46.5v2.8M1309.7 46.5v2.8M1340.1 46.5v2.8M1188.1 230.49h2.8M1370.5 230.49h-2.8M1188.1 138.49h2.8M1370.5 138.49h-2.8"/>
<rect class="a" x="1188.1" y="46.5" width="182.4" height="275.98"/>
<path class="m" d="M1218.5 245.39H1340.05"/>
<path class="d" stroke-dasharray="8.49 8.83" d="M1218.5 189.46H1340.05M1218.5 300.77H1340.05"/>
<text class="y" transform="matrix(0.955 .0005 0 1 1182.6 328.88)">0</text>
<text class="y" transform="matrix(0.955 .0005 0 1 1181.9 236.89)">5</text>
<text class="y" transform="matrix(0.955 .0005 0 1 1182.6 144.89)">10</text>
<text class="y" transform="matrix(0.955 .0005 0 1 1181.9 52.9)">15</text>
<text class="x" transform="matrix(1.0 .0005 0 1 1217 342.63)">0.2</text>
<text class="x" transform="matrix(1.0 .0005 0 1 1247.4 342.63)">0.4</text>
<text class="x" transform="matrix(1.0 .0005 0 1 1277.8 342.63)">0.6</text>
<text class="x" transform="matrix(1.0 .0005 0 1 1308.2 342.63)">0.8</text>
<text class="x" transform="matrix(0.955 .0005 0 1 1339.1 342.63)">1</text>
</g>
<g>
<text class="t" transform="matrix(0.928 .0005 0 1 1498 32.8)">Shadow rate</text>
<rect class="b" x="1433.34" y="285.68" width="24.32" height="36.8"/>
<rect class="b" x="1463.74" y="248.89" width="24.32" height="73.59"/>
<rect class="b" x="1494.14" y="230.49" width="24.32" height="91.99"/>
<rect class="b" x="1524.54" y="212.09" width="24.32" height="110.39"/>
<rect class="b" x="1554.94" y="248.89" width="24.32" height="73.59"/>
<path class="k" d="M1445.5 46.5v2.8M1475.9 46.5v2.8M1506.3 46.5v2.8M1536.7 46.5v2.8M1567.1 46.5v2.8M1415.1 230.49h2.8M1597.5 230.49h-2.8M1415.1 138.49h2.8M1597.5 138.49h-2.8"/>
<rect class="a" x="1415.1" y="46.5" width="182.4" height="275.98"/>
<path class="m" d="M1445.5 245.39H1567.05"/>
<path class="d" stroke-dasharray="8.49 8.83" d="M1445.5 189.46H1567.05M1445.5 300.77H1567.05"/>
<text class="y" transform="matrix(0.955 .0005 0 1 1409.6 328.88)">0</text>
<text class="y" transform="matrix(0.955 .0005 0 1 1408.9 236.89)">5</text>
<text class="y" transform="matrix(0.955 .0005 0 1 1409.6 144.89)">10</text>
<text class="y" transform="matrix(0.955 .0005 0 1 1408.9 52.9)">15</text>
<text class="x" transform="matrix(1.0 .0005 0 1 1444 342.63)">0.2</text>
<text class="x" transform="matrix(1.0 .0005 0 1 1474.4 342.63)">0.4</text>
<text class="x" transform="matrix(1.0 .0005 0 1 1504.8 342.63)">0.6</text>
<text class="x" transform="matrix(1.0 .0005 0 1 1535.2 342.63)">0.8</text>
<text class="x" transform="matrix(0.955 .0005 0 1 1566.1 342.63)">1</text>
</g>
<g>
<text class="t" transform="matrix(0.928 .0005 0 1 1728.3 32.8)">Logarithmic</text>
<rect class="b" x="1659.93" y="304.08" width="24.31" height="18.4"/>
<rect class="b" x="1690.31" y="212.09" width="24.31" height="110.39"/>
<rect class="b" x="1720.7" y="230.49" width="24.31" height="91.99"/>
<rect class="b" x="1751.08" y="230.49" width="24.31" height="91.99"/>
<rect class="b" x="1781.46" y="248.89" width="24.31" height="73.59"/>
<path class="k" d="M1672.08 46.5v2.8M1702.47 46.5v2.8M1732.85 46.5v2.8M1763.23 46.5v2.8M1793.62 46.5v2.8M1641.7 230.49h2.8M1824 230.49h-2.8M1641.7 138.49h2.8M1824 138.49h-2.8"/>
<rect class="a" x="1641.7" y="46.5" width="182.3" height="275.98"/>
<path class="m" d="M1672.08 245.39H1793.57"/>
<path class="d" stroke-dasharray="8.48 8.83" d="M1672.08 189.46H1793.57M1672.08 300.77H1793.57"/>
<text class="y" transform="matrix(0.955 .0005 0 1 1636.2 328.88)">0</text>
<text class="y" transform="matrix(0.955 .0005 0 1 1635.5 236.89)">5</text>
<text class="y" transform="matrix(0.955 .0005 0 1 1636.2 144.89)">10</text>
<text class="y" transform="matrix(0.955 .0005 0 1 1635.5 52.9)">15</text>
<text class="x" transform="matrix(1.0 .0005 0 1 1670.58 342.63)">0.2</text>
<text class="x" transform="matrix(1.0 .0005 0 1 1700.97 342.63)">0.4</text>
<text class="x" transform="matrix(1.0 .0005 0 1 1731.35 342.63)">0.6</text>
<text class="x" transform="matrix(1.0 .0005 0 1 1761.73 342.63)">0.8</text>
<text class="x" transform="matrix(0.955 .0005 0 1 1792.62 342.63)">1</text>
</g>
<g>
<text class="t" transform="matrix(0.928 .0005 0 1 1046.9 385.4)">Policy shock</text>
<rect class="b" x="979.61" y="637.82" width="24.28" height="36.73"/>
<rect class="b" x="1009.96" y="582.73" width="24.28" height="91.82"/>
<rect class="b" x="1040.31" y="582.73" width="24.28" height="91.82"/>
<rect class="b" x="1070.66" y="582.73" width="24.28" height="91.82"/>
<rect class="b" x="1101.01" y="601.1" width="24.28" height="73.45"/>
<path class="k" d="M991.75 399.1v2.8M1022.1 399.1v2.8M1052.45 399.1v2.8M1082.8 399.1v2.8M1113.15 399.1v2.8M961.4 582.73h2.8M1143.5 582.73h-2.8M961.4 490.92h2.8M1143.5 490.92h-2.8"/>
<rect class="a" x="961.4" y="399.1" width="182.1" height="275.45"/>
<path class="m" d="M991.75 597.61H1113.1"/>
<path class="d" stroke-dasharray="8.47 8.82" d="M991.75 541.78H1113.1M991.75 652.88H1113.1"/>
<text class="y" transform="matrix(0.955 .0005 0 1 955.9 680.95)">0</text>
<text class="y" transform="matrix(0.955 .0005 0 1 955.2 589.13)">5</text>
<text class="y" transform="matrix(0.955 .0005 0 1 955.9 497.32)">10</text>
<text class="y" transform="matrix(0.955 .0005 0 1 955.2 405.5)">15</text>
<text class="x" transform="matrix(1.0 .0005 0 1 990.25 694.7)">0.2</text>
<text class="x" transform="matrix(1.0 .0005 0 1 1020.6 694.7)">0.4</text>
<text class="x" transform="matrix(1.0 .0005 0 1 1050.95 694.7)">0.6</text>
<text class="x" transform="matrix(1.0 .0005 0 1 1081.3 694.7)">0.8</text>
<text class="x" transform="matrix(0.955 .0005 0 1 1112.15 694.7)">1</text>
</g>
<g>
<text class="t" transform="matrix(0.928 .0005 0 1 1272.4 385.4)">Policy shock (EI)</text>
<rect class="b" x="1206.34" y="637.82" width="24.32" height="36.73"/>
<rect class="b" x="1236.74" y="582.73" width="24.32" height="91.82"/>
<rect class="b" x="1267.14" y="582.73" width="24.32" height="91.82"/>
<rect class="b" x="1297.54" y="582.73" width="24.32" height="91.82"/>
<rect class="b" x="1327.94" y="601.1" width="24.32" height="73.45"/>
<path class="k" d="M1218.5 399.1v2.8M1248.9 399.1v2.8M1279.3 399.1v2.8M1309.7 399.1v2.8M1340.1 399.1v2.8M1188.1 582.73h2.8M1370.5 582.73h-2.8M1188.1 490.92h2.8M1370.5 490.92h-2.8"/>
<rect class="a" x="1188.1" y="399.1" width="182.4" height="275.45"/>
<path class="m" d="M1218.5 597.61H1340.05"/>
<path class="d" stroke-dasharray="8.49 8.83" d="M1218.5 541.78H1340.05M1218.5 652.88H1340.05"/>
<text class="y" transform="matrix(0.955 .0005 0 1 1182.6 680.95)">0</text>
<text class="y" transform="matrix(0.955 .0005 0 1 1181.9 589.13)">5</text>
<text class="y" transform="matrix(0.955 .0005 0 1 1182.6 497.32)">10</text>
<text class="y" transform="matrix(0.955 .0005 0 1 1181.9 405.5)">15</text>
<text class="x" transform="matrix(1.0 .0005 0 1 1217 694.7)">0.2</text>
<text class="x" transform="matrix(1.0 .0005 0 1 1247.4 694.7)">0.4</text>
<text class="x" transform="matrix(1.0 .0005 0 1 1277.8 694.7)">0.6</text>
<text class="x" transform="matrix(1.0 .0005 0 1 1308.2 694.7)">0.8</text>
<text class="x" transform="matrix(0.955 .0005 0 1 1339.1 694.7)">1</text>
</g>
<g>
<text class="t" transform="matrix(0.928 .0005 0 1 1499 385.4)">Soft condition</text>
<rect class="b" x="1433.34" y="619.46" width="24.32" height="55.09"/>
<rect class="b" x="1463.74" y="582.73" width="24.32" height="91.82"/>
<rect class="b" x="1494.14" y="601.1" width="24.32" height="73.45"/>
<rect class="b" x="1524.54" y="582.73" width="24.32" height="91.82"/>
<rect class="b" x="1554.94" y="601.1" width="24.32" height="73.45"/>
<path class="k" d="M1445.5 399.1v2.8M1475.9 399.1v2.8M1506.3 399.1v2.8M1536.7 399.1v2.8M1567.1 399.1v2.8M1415.1 582.73h2.8M1597.5 582.73h-2.8M1415.1 490.92h2.8M1597.5 490.92h-2.8"/>
<rect class="a" x="1415.1" y="399.1" width="182.4" height="275.45"/>
<path class="m" d="M1445.5 597.61H1567.05"/>
<path class="d" stroke-dasharray="8.49 8.83" d="M1445.5 541.78H1567.05M1445.5 652.88H1567.05"/>
<text class="y" transform="matrix(0.955 .0005 0 1 1409.6 680.95)">0</text>
<text class="y" transform="matrix(0.955 .0005 0 1 1408.9 589.13)">5</text>
<text class="y" transform="matrix(0.955 .0005 0 1 1409.6 497.32)">10</text>
<text class="y" transform="matrix(0.955 .0005 0 1 1408.9 405.5)">15</text>
<text class="x" transform="matrix(1.0 .0005 0 1 1444 694.7)">0.2</text>
<text class="x" transform="matrix(1.0 .0005 0 1 1474.4 694.7)">0.4</text>
<text class="x" transform="matrix(1.0 .0005 0 1 1504.8 694.7)">0.6</text>
<text class="x" transform="matrix(1.0 .0005 0 1 1535.2 694.7)">0.8</text>
<text class="x" transform="matrix(0.955 .0005 0 1 1566.1 694.7)">1</text>
</g>
<g>
<text class="t" transform="matrix(0.928 .0005 0 1 1724 385.4)">Soft condition (EI)</text>
<rect class="b" x="1659.93" y="619.46" width="24.31" height="55.09"/>
<rect class="b" x="1690.31" y="601.1" width="24.31" height="73.45"/>
<rect class="b" x="1720.7" y="582.73" width="24.31" height="91.82"/>
<rect class="b" x="1751.08" y="582.73" width="24.31" height="91.82"/>
<rect class="b" x="1781.46" y="601.1" width="24.31" height="73.45"/>
<path class="k" d="M1672.08 399.1v2.8M1702.47 399.1v2.8M1732.85 399.1v2.8M1763.23 399.1v2.8M1793.62 399.1v2.8M1641.7 582.73h2.8M1824 582.73h-2.8M1641.7 490.92h2.8M1824 490.92h-2.8"/>
<rect class="a" x="1641.7" y="399.1" width="182.3" height="275.45"/>
<path class="m" d="M1672.08 597.61H1793.57"/>
<path class="d" stroke-dasharray="8.48 8.83" d="M1672.08 541.78H1793.57M1672.08 652.88H1793.57"/>
<text class="y" transform="matrix(0.955 .0005 0 1 1636.2 680.95)">0</text>
<text class="y" transform="matrix(0.955 .0005 0 1 1635.5 589.13)">5</text>
<text class="y" transform="matrix(0.955 .0005 0 1 1636.2 497.32)">10</text>
<text class="y" transform="matrix(0.955 .0005 0 1 1635.5 405.5)">15</text>
<text class="x" transform="matrix(1.0 .0005 0 1 1670.58 694.7)">0.2</text>
<text class="x" transform="matrix(1.0 .0005 0 1 1700.97 694.7)">0.4</text>
<text class="x" transform="matrix(1.0 .0005 0 1 1731.35 694.7)">0.6</text>
<text class="x" transform="matrix(1.0 .0005 0 1 1761.73 694.7)">0.8</text>
<text class="x" transform="matrix(0.955 .0005 0 1 1792.62 694.7)">1</text>
</g>
<g>
<text class="t" transform="matrix(0.928 .0005 0 1 1048.9 754.8)">Benchmark</text>
<rect class="b" x="980.16" y="971.6" width="24.35" height="73.85"/>
<rect class="b" x="1010.59" y="990.06" width="24.35" height="55.39"/>
<rect class="b" x="1041.03" y="897.74" width="24.35" height="147.71"/>
<rect class="b" x="1071.46" y="1008.52" width="24.35" height="36.93"/>
<rect class="b" x="1101.89" y="971.6" width="24.35" height="73.85"/>
<path class="k" d="M992.33 768.5v2.8M1022.77 768.5v2.8M1053.2 768.5v2.8M1083.63 768.5v2.8M1114.07 768.5v2.8M961.9 953.13h2.8M1144.5 953.13h-2.8M961.9 860.82h2.8M1144.5 860.82h-2.8"/>
<rect class="a" x="961.9" y="768.5" width="182.6" height="276.95"/>
<path class="m" d="M992.33 968.09H1114.02"/>
<path class="d" stroke-dasharray="8.5 8.84" d="M992.33 911.96H1114.02M992.33 1023.66H1114.02"/>
<text class="y" transform="matrix(0.955 .0005 0 1 956.4 1051.85)">0</text>
<text class="y" transform="matrix(0.955 .0005 0 1 955.7 959.53)">5</text>
<text class="y" transform="matrix(0.955 .0005 0 1 956.4 867.22)">10</text>
<text class="y" transform="matrix(0.955 .0005 0 1 955.7 774.9)">15</text>
<text class="x" transform="matrix(1.0 .0005 0 1 990.83 1065.6)">0.2</text>
<text class="x" transform="matrix(1.0 .0005 0 1 1021.27 1065.6)">0.4</text>
<text class="x" transform="matrix(1.0 .0005 0 1 1051.7 1065.6)">0.6</text>
<text class="x" transform="matrix(1.0 .0005 0 1 1082.13 1065.6)">0.8</text>
<text class="x" transform="matrix(0.955 .0005 0 1 1113.07 1065.6)">1</text>
</g>
<g>
<text class="t" transform="matrix(0.928 .0005 0 1 1277.7 754.8)">Threshold</text>
<rect class="b" x="1207.89" y="1008.52" width="24.39" height="36.93"/>
<rect class="b" x="1238.37" y="990.06" width="24.39" height="55.39"/>
<rect class="b" x="1268.86" y="953.13" width="24.39" height="92.32"/>
<rect class="b" x="1299.34" y="934.67" width="24.39" height="110.78"/>
<rect class="b" x="1329.82" y="953.13" width="24.39" height="92.32"/>
<path class="k" d="M1220.08 768.5v2.8M1250.57 768.5v2.8M1281.05 768.5v2.8M1311.53 768.5v2.8M1342.02 768.5v2.8M1189.6 953.13h2.8M1372.5 953.13h-2.8M1189.6 860.82h2.8M1372.5 860.82h-2.8"/>
<rect class="a" x="1189.6" y="768.5" width="182.9" height="276.95"/>
<path class="m" d="M1220.08 968.09H1341.97"/>
<path class="d" stroke-dasharray="8.51 8.86" d="M1220.08 911.96H1341.97M1220.08 1023.66H1341.97"/>
<text class="y" transform="matrix(0.955 .0005 0 1 1184.1 1051.85)">0</text>
<text class="y" transform="matrix(0.955 .0005 0 1 1183.4 959.53)">5</text>
<text class="y" transform="matrix(0.955 .0005 0 1 1184.1 867.22)">10</text>
<text class="y" transform="matrix(0.955 .0005 0 1 1183.4 774.9)">15</text>
<text class="x" transform="matrix(1.0 .0005 0 1 1218.58 1065.6)">0.2</text>
<text class="x" transform="matrix(1.0 .0005 0 1 1249.07 1065.6)">0.4</text>
<text class="x" transform="matrix(1.0 .0005 0 1 1279.55 1065.6)">0.6</text>
<text class="x" transform="matrix(1.0 .0005 0 1 1310.03 1065.6)">0.8</text>
<text class="x" transform="matrix(0.955 .0005 0 1 1341.02 1065.6)">1</text>
</g>
<g>
<text class="t" transform="matrix(0.928 .0005 0 1 1497.3 754.8)">Shadow rate</text>
<rect class="b" x="1432.55" y="971.6" width="24.4" height="73.85"/>
<rect class="b" x="1463.05" y="971.6" width="24.4" height="73.85"/>
<rect class="b" x="1493.55" y="916.21" width="24.4" height="129.24"/>
<rect class="b" x="1524.05" y="990.06" width="24.4" height="55.39"/>
<rect class="b" x="1554.55" y="990.06" width="24.4" height="55.39"/>
<path class="k" d="M1444.75 768.5v2.8M1475.25 768.5v2.8M1505.75 768.5v2.8M1536.25 768.5v2.8M1566.75 768.5v2.8M1414.25 953.13h2.8M1597.25 953.13h-2.8M1414.25 860.82h2.8M1597.25 860.82h-2.8"/>
<rect class="a" x="1414.25" y="768.5" width="183" height="276.95"/>
<path class="m" d="M1444.75 968.09H1566.7"/>
<path class="d" stroke-dasharray="8.52 8.86" d="M1444.75 911.96H1566.7M1444.75 1023.66H1566.7"/>
<text class="y" transform="matrix(0.955 .0005 0 1 1408.75 1051.85)">0</text>
<text class="y" transform="matrix(0.955 .0005 0 1 1408.05 959.53)">5</text>
<text class="y" transform="matrix(0.955 .0005 0 1 1408.75 867.22)">10</text>
<text class="y" transform="matrix(0.955 .0005 0 1 1408.05 774.9)">15</text>
<text class="x" transform="matrix(1.0 .0005 0 1 1443.25 1065.6)">0.2</text>
<text class="x" transform="matrix(1.0 .0005 0 1 1473.75 1065.6)">0.4</text>
<text class="x" transform="matrix(1.0 .0005 0 1 1504.25 1065.6)">0.6</text>
<text class="x" transform="matrix(1.0 .0005 0 1 1534.75 1065.6)">0.8</text>
<text class="x" transform="matrix(0.955 .0005 0 1 1565.75 1065.6)">1</text>
</g>
<g>
<text class="t" transform="matrix(0.928 .0005 0 1 1728.3 754.8)">Logarithmic</text>
<rect class="b" x="1659.9" y="990.06" width="24.4" height="55.39"/>
<rect class="b" x="1690.4" y="934.67" width="24.4" height="110.78"/>
<rect class="b" x="1720.9" y="953.13" width="24.4" height="92.32"/>
<rect class="b" x="1751.4" y="971.6" width="24.4" height="73.85"/>
<rect class="b" x="1781.9" y="990.06" width="24.4" height="55.39"/>
<path class="k" d="M1672.1 768.5v2.8M1702.6 768.5v2.8M1733.1 768.5v2.8M1763.6 768.5v2.8M1794.1 768.5v2.8M1641.6 953.13h2.8M1824.6 953.13h-2.8M1641.6 860.82h2.8M1824.6 860.82h-2.8"/>
<rect class="a" x="1641.6" y="768.5" width="183" height="276.95"/>
<path class="m" d="M1672.1 968.09H1794.05"/>
<path class="d" stroke-dasharray="8.52 8.86" d="M1672.1 911.96H1794.05M1672.1 1023.66H1794.05"/>
<text class="y" transform="matrix(0.955 .0005 0 1 1636.1 1051.85)">0</text>
<text class="y" transform="matrix(0.955 .0005 0 1 1635.4 959.53)">5</text>
<text class="y" transform="matrix(0.955 .0005 0 1 1636.1 867.22)">10</text>
<text class="y" transform="matrix(0.955 .0005 0 1 1635.4 774.9)">15</text>
<text class="x" transform="matrix(1.0 .0005 0 1 1670.6 1065.6)">0.2</text>
<text class="x" transform="matrix(1.0 .0005 0 1 1701.1 1065.6)">0.4</text>
<text class="x" transform="matrix(1.0 .0005 0 1 1731.6 1065.6)">0.6</text>
<text class="x" transform="matrix(1.0 .0005 0 1 1762.1 1065.6)">0.8</text>
<text class="x" transform="matrix(0.955 .0005 0 1 1793.1 1065.6)">1</text>
</g>
<g>
<text class="t" transform="matrix(0.928 .0005 0 1 1048 1098.8)">Policy shock</text>
<rect class="b" x="980.16" y="1315.52" width="24.35" height="73.83"/>
<rect class="b" x="1010.59" y="1278.61" width="24.35" height="110.74"/>
<rect class="b" x="1041.03" y="1278.61" width="24.35" height="110.74"/>
<rect class="b" x="1071.46" y="1370.89" width="24.35" height="18.46"/>
<rect class="b" x="1101.89" y="1315.52" width="24.35" height="73.83"/>
<path class="k" d="M992.33 1112.5v2.8M1022.77 1112.5v2.8M1053.2 1112.5v2.8M1083.63 1112.5v2.8M1114.07 1112.5v2.8M961.9 1297.07h2.8M1144.5 1297.07h-2.8M961.9 1204.78h2.8M1144.5 1204.78h-2.8"/>
<rect class="a" x="961.9" y="1112.5" width="182.6" height="276.85"/>
<path class="m" d="M992.33 1312.02H1114.02"/>
<path class="d" stroke-dasharray="8.5 8.84" d="M992.33 1255.91H1114.02M992.33 1367.57H1114.02"/>
<text class="y" transform="matrix(0.955 .0005 0 1 956.4 1395.75)">0</text>
<text class="y" transform="matrix(0.955 .0005 0 1 955.7 1303.47)">5</text>
<text class="y" transform="matrix(0.955 .0005 0 1 956.4 1211.18)">10</text>
<text class="y" transform="matrix(0.955 .0005 0 1 955.7 1118.9)">15</text>
<text class="x" transform="matrix(1.0 .0005 0 1 990.83 1409.5)">0.2</text>
<text class="x" transform="matrix(1.0 .0005 0 1 1021.27 1409.5)">0.4</text>
<text class="x" transform="matrix(1.0 .0005 0 1 1051.7 1409.5)">0.6</text>
<text class="x" transform="matrix(1.0 .0005 0 1 1082.13 1409.5)">0.8</text>
<text class="x" transform="matrix(0.955 .0005 0 1 1113.07 1409.5)">1</text>
</g>
<g>
<text class="t" transform="matrix(0.928 .0005 0 1 1273.75 1098.8)">Policy shock (EI)</text>
<rect class="b" x="1207.89" y="1333.98" width="24.39" height="55.37"/>
<rect class="b" x="1238.37" y="1278.61" width="24.39" height="110.74"/>
<rect class="b" x="1268.86" y="1278.61" width="24.39" height="110.74"/>
<rect class="b" x="1299.34" y="1352.44" width="24.39" height="36.91"/>
<rect class="b" x="1329.82" y="1315.52" width="24.39" height="73.83"/>
<path class="k" d="M1220.08 1112.5v2.8M1250.57 1112.5v2.8M1281.05 1112.5v2.8M1311.53 1112.5v2.8M1342.02 1112.5v2.8M1189.6 1297.07h2.8M1372.5 1297.07h-2.8M1189.6 1204.78h2.8M1372.5 1204.78h-2.8"/>
<rect class="a" x="1189.6" y="1112.5" width="182.9" height="276.85"/>
<path class="m" d="M1220.08 1312.02H1341.97"/>
<path class="d" stroke-dasharray="8.51 8.86" d="M1220.08 1255.91H1341.97M1220.08 1367.57H1341.97"/>
<text class="y" transform="matrix(0.955 .0005 0 1 1184.1 1395.75)">0</text>
<text class="y" transform="matrix(0.955 .0005 0 1 1183.4 1303.47)">5</text>
<text class="y" transform="matrix(0.955 .0005 0 1 1184.1 1211.18)">10</text>
<text class="y" transform="matrix(0.955 .0005 0 1 1183.4 1118.9)">15</text>
<text class="x" transform="matrix(1.0 .0005 0 1 1218.58 1409.5)">0.2</text>
<text class="x" transform="matrix(1.0 .0005 0 1 1249.07 1409.5)">0.4</text>
<text class="x" transform="matrix(1.0 .0005 0 1 1279.55 1409.5)">0.6</text>
<text class="x" transform="matrix(1.0 .0005 0 1 1310.03 1409.5)">0.8</text>
<text class="x" transform="matrix(0.955 .0005 0 1 1341.02 1409.5)">1</text>
</g>
<g>
<text class="t" transform="matrix(0.928 .0005 0 1 1498.3 1098.8)">Soft condition</text>
<rect class="b" x="1432.55" y="1278.61" width="24.4" height="110.74"/>
<rect class="b" x="1463.05" y="1241.7" width="24.4" height="147.65"/>
<rect class="b" x="1493.55" y="1352.44" width="24.4" height="36.91"/>
<rect class="b" x="1524.05" y="1333.98" width="24.4" height="55.37"/>
<rect class="b" x="1554.55" y="1352.44" width="24.4" height="36.91"/>
<path class="k" d="M1444.75 1112.5v2.8M1475.25 1112.5v2.8M1505.75 1112.5v2.8M1536.25 1112.5v2.8M1566.75 1112.5v2.8M1414.25 1297.07h2.8M1597.25 1297.07h-2.8M1414.25 1204.78h2.8M1597.25 1204.78h-2.8"/>
<rect class="a" x="1414.25" y="1112.5" width="183" height="276.85"/>
<path class="m" d="M1444.75 1312.02H1566.7"/>
<path class="d" stroke-dasharray="8.52 8.86" d="M1444.75 1255.91H1566.7M1444.75 1367.57H1566.7"/>
<text class="y" transform="matrix(0.955 .0005 0 1 1408.75 1395.75)">0</text>
<text class="y" transform="matrix(0.955 .0005 0 1 1408.05 1303.47)">5</text>
<text class="y" transform="matrix(0.955 .0005 0 1 1408.75 1211.18)">10</text>
<text class="y" transform="matrix(0.955 .0005 0 1 1408.05 1118.9)">15</text>
<text class="x" transform="matrix(1.0 .0005 0 1 1443.25 1409.5)">0.2</text>
<text class="x" transform="matrix(1.0 .0005 0 1 1473.75 1409.5)">0.4</text>
<text class="x" transform="matrix(1.0 .0005 0 1 1504.25 1409.5)">0.6</text>
<text class="x" transform="matrix(1.0 .0005 0 1 1534.75 1409.5)">0.8</text>
<text class="x" transform="matrix(0.955 .0005 0 1 1565.75 1409.5)">1</text>
</g>
<g>
<text class="t" transform="matrix(0.928 .0005 0 1 1724.3 1098.8)">Soft condition (EI)</text>
<rect class="b" x="1659.9" y="1333.98" width="24.4" height="55.37"/>
<rect class="b" x="1690.4" y="1297.07" width="24.4" height="92.28"/>
<rect class="b" x="1720.9" y="1297.07" width="24.4" height="92.28"/>
<rect class="b" x="1751.4" y="1315.52" width="24.4" height="73.83"/>
<rect class="b" x="1781.9" y="1315.52" width="24.4" height="73.83"/>
<path class="k" d="M1672.1 1112.5v2.8M1702.6 1112.5v2.8M1733.1 1112.5v2.8M1763.6 1112.5v2.8M1794.1 1112.5v2.8M1641.6 1297.07h2.8M1824.6 1297.07h-2.8M1641.6 1204.78h2.8M1824.6 1204.78h-2.8"/>
<rect class="a" x="1641.6" y="1112.5" width="183" height="276.85"/>
<path class="m" d="M1672.1 1312.02H1794.05"/>
<path class="d" stroke-dasharray="8.52 8.86" d="M1672.1 1255.91H1794.05M1672.1 1367.57H1794.05"/>
<text class="y" transform="matrix(0.955 .0005 0 1 1636.1 1395.75)">0</text>
<text class="y" transform="matrix(0.955 .0005 0 1 1635.4 1303.47)">5</text>
<text class="y" transform="matrix(0.955 .0005 0 1 1636.1 1211.18)">10</text>
<text class="y" transform="matrix(0.955 .0005 0 1 1635.4 1118.9)">15</text>
<text class="x" transform="matrix(1.0 .0005 0 1 1670.6 1409.5)">0.2</text>
<text class="x" transform="matrix(1.0 .0005 0 1 1701.1 1409.5)">0.4</text>
<text class="x" transform="matrix(1.0 .0005 0 1 1731.6 1409.5)">0.6</text>
<text class="x" transform="matrix(1.0 .0005 0 1 1762.1 1409.5)">0.8</text>
<text class="x" transform="matrix(0.955 .0005 0 1 1793.1 1409.5)">1</text>
</g>
<text class="p" transform="matrix(1.0 .0005 0 1 0.7 25)">A</text>
<text class="p" transform="matrix(0.95 .0005 0 1 0.4 752.6)">B</text>
<text class="p" transform="matrix(0.97 .0005 0 1 921.3 24.6)">C</text>
<text class="p" transform="matrix(0.96 .0005 0 1 919.2 752.6)">D</text>
</svg>
</body>
</html>
